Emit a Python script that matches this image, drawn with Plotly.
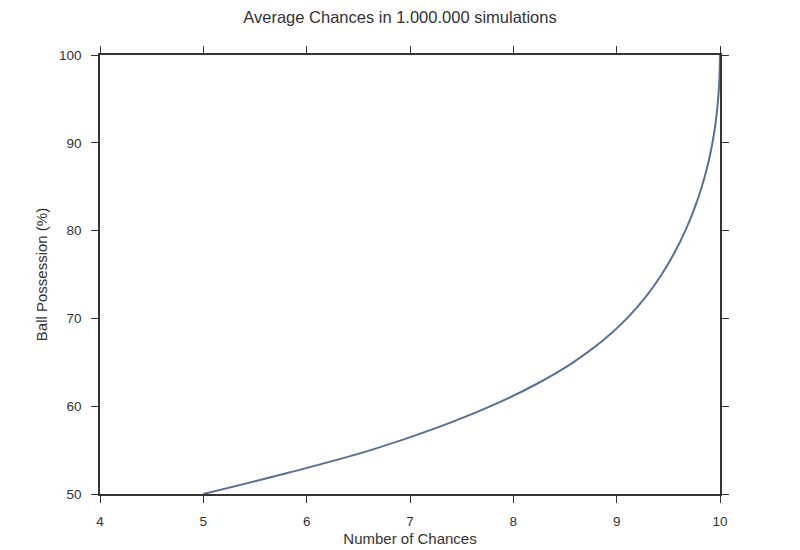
"""
Average chances vs ball possession, read off the simulation chart.
"""

import plotly.graph_objects as go

# ── Data ─────────────────────────────────────────────────────────────────────

chances = [5.00, 5.85, 6.62, 7.25, 7.78, 8.22, 8.58, 8.87, 9.10, 9.285,
           9.435, 9.56, 9.665, 9.752, 9.824, 9.882, 9.927, 9.960, 9.982,
           9.995, 10.00]
possession = [50.0, 52.5, 55.0, 57.5, 60.0, 62.5, 65.0, 67.5, 70.0, 72.5,
              75.0, 77.5, 80.0, 82.5, 85.0, 87.5, 90.0, 92.5, 95.0,
              97.5, 100.0]

x_ticks = [4, 5, 6, 7, 8, 9, 10]
y_ticks = [50, 60, 70, 80, 90, 100]

TEXT = "#333333"
AXIS = "#333333"

# ── Figure ───────────────────────────────────────────────────────────────────

fig = go.Figure()
fig.add_trace(go.Scatter(
    x=chances, y=possession,
    mode="lines",
    line=dict(color="#5a6f92", width=2, shape="spline", smoothing=1),
    showlegend=False,
))

axis_style = dict(
    showgrid=False, zeroline=False,
    showline=True, linecolor=AXIS, linewidth=1.5,
    mirror="ticks", ticks="outside", ticklen=7, tickwidth=1.2, tickcolor=AXIS,
    tickfont=dict(size=13.5, color=TEXT),
    ticklabelstandoff=7,
)

fig.update_xaxes(
    range=[4, 10], tickvals=x_ticks,
    title=dict(text="Number of Chances", font=dict(size=15, color=TEXT), standoff=6),
    **axis_style,
)
fig.update_yaxes(
    range=[50, 100], tickvals=y_ticks,
    title=dict(text="Ball Possession (%)", font=dict(size=15, color=TEXT), standoff=8),
    **axis_style,
)

fig.update_layout(
    title=dict(text="Average Chances in 1.000.000 simulations",
               x=0.49, xanchor="center", y=0.984, yanchor="middle",
               font=dict(size=16.5, color=TEXT)),
    font=dict(family="Arial, Liberation Sans, sans-serif", color=TEXT),
    width=800, height=550,
    margin=dict(l=92, r=88, t=47, b=64),
    plot_bgcolor="white", paper_bgcolor="white",
)

fig.write_html("out.html")
